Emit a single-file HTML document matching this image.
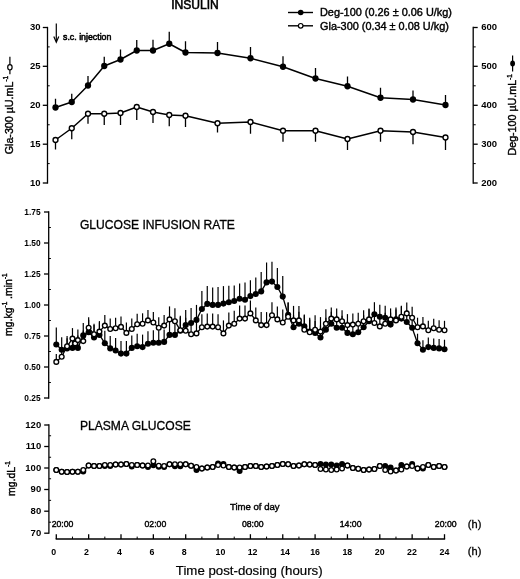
<!DOCTYPE html>
<html><head><meta charset="utf-8"><title>Insulin clamp figure</title>
<style>html,body{margin:0;padding:0;background:#fff}svg{display:block}text{font-family:"Liberation Sans", Arial, sans-serif;fill:#000}.b{font-weight:bold}</style></head><body>
<svg width="520" height="579" viewBox="0 0 520 579">
<rect width="520" height="579" fill="#fff"/>
<line x1="47.50" y1="26.85" x2="47.50" y2="183.65" stroke="#000" stroke-width="1.30"/>
<line x1="42.80" y1="27.50" x2="47.50" y2="27.50" stroke="#000" stroke-width="1.30"/>
<text x="40.50" y="30.30" font-size="9.5" text-anchor="end" class="b">30</text>
<line x1="42.80" y1="66.30" x2="47.50" y2="66.30" stroke="#000" stroke-width="1.30"/>
<text x="40.50" y="69.10" font-size="9.5" text-anchor="end" class="b">25</text>
<line x1="42.80" y1="105.30" x2="47.50" y2="105.30" stroke="#000" stroke-width="1.30"/>
<text x="40.50" y="108.10" font-size="9.5" text-anchor="end" class="b">20</text>
<line x1="42.80" y1="144.20" x2="47.50" y2="144.20" stroke="#000" stroke-width="1.30"/>
<text x="40.50" y="147.00" font-size="9.5" text-anchor="end" class="b">15</text>
<line x1="42.80" y1="183.00" x2="47.50" y2="183.00" stroke="#000" stroke-width="1.30"/>
<text x="40.50" y="185.80" font-size="9.5" text-anchor="end" class="b">10</text>
<line x1="47.50" y1="46.90" x2="49.70" y2="46.90" stroke="#000" stroke-width="1.00"/>
<line x1="47.50" y1="85.80" x2="49.70" y2="85.80" stroke="#000" stroke-width="1.00"/>
<line x1="47.50" y1="124.75" x2="49.70" y2="124.75" stroke="#000" stroke-width="1.00"/>
<line x1="47.50" y1="163.60" x2="49.70" y2="163.60" stroke="#000" stroke-width="1.00"/>
<line x1="473.20" y1="26.85" x2="473.20" y2="183.65" stroke="#000" stroke-width="1.30"/>
<line x1="473.20" y1="27.50" x2="477.70" y2="27.50" stroke="#000" stroke-width="1.30"/>
<text x="481.20" y="30.30" font-size="9.5" text-anchor="start" class="b">600</text>
<line x1="473.20" y1="66.30" x2="477.70" y2="66.30" stroke="#000" stroke-width="1.30"/>
<text x="481.20" y="69.10" font-size="9.5" text-anchor="start" class="b">500</text>
<line x1="473.20" y1="105.30" x2="477.70" y2="105.30" stroke="#000" stroke-width="1.30"/>
<text x="481.20" y="108.10" font-size="9.5" text-anchor="start" class="b">400</text>
<line x1="473.20" y1="144.20" x2="477.70" y2="144.20" stroke="#000" stroke-width="1.30"/>
<text x="481.20" y="147.00" font-size="9.5" text-anchor="start" class="b">300</text>
<line x1="473.20" y1="183.00" x2="477.70" y2="183.00" stroke="#000" stroke-width="1.30"/>
<text x="481.20" y="185.80" font-size="9.5" text-anchor="start" class="b">200</text>
<line x1="473.20" y1="46.90" x2="475.70" y2="46.90" stroke="#000" stroke-width="1.00"/>
<line x1="473.20" y1="85.80" x2="475.70" y2="85.80" stroke="#000" stroke-width="1.00"/>
<line x1="473.20" y1="124.75" x2="475.70" y2="124.75" stroke="#000" stroke-width="1.00"/>
<line x1="473.20" y1="163.60" x2="475.70" y2="163.60" stroke="#000" stroke-width="1.00"/>
<line x1="55.50" y1="107.50" x2="55.50" y2="98.75" stroke="#000" stroke-width="1.30"/>
<line x1="71.75" y1="102.00" x2="71.75" y2="93.75" stroke="#000" stroke-width="1.30"/>
<line x1="88.00" y1="85.50" x2="88.00" y2="76.00" stroke="#000" stroke-width="1.30"/>
<line x1="104.25" y1="66.00" x2="104.25" y2="56.75" stroke="#000" stroke-width="1.30"/>
<line x1="120.50" y1="59.50" x2="120.50" y2="49.50" stroke="#000" stroke-width="1.30"/>
<line x1="136.75" y1="50.50" x2="136.75" y2="40.00" stroke="#000" stroke-width="1.30"/>
<line x1="153.00" y1="50.50" x2="153.00" y2="39.75" stroke="#000" stroke-width="1.30"/>
<line x1="169.25" y1="43.75" x2="169.25" y2="31.75" stroke="#000" stroke-width="1.30"/>
<line x1="185.50" y1="52.50" x2="185.50" y2="41.25" stroke="#000" stroke-width="1.30"/>
<line x1="217.50" y1="53.00" x2="217.50" y2="42.00" stroke="#000" stroke-width="1.30"/>
<line x1="250.50" y1="58.25" x2="250.50" y2="47.00" stroke="#000" stroke-width="1.30"/>
<line x1="283.00" y1="66.75" x2="283.00" y2="56.25" stroke="#000" stroke-width="1.30"/>
<line x1="315.50" y1="78.50" x2="315.50" y2="68.00" stroke="#000" stroke-width="1.30"/>
<line x1="347.50" y1="86.25" x2="347.50" y2="76.50" stroke="#000" stroke-width="1.30"/>
<line x1="380.50" y1="97.75" x2="380.50" y2="87.75" stroke="#000" stroke-width="1.30"/>
<line x1="413.00" y1="99.50" x2="413.00" y2="90.50" stroke="#000" stroke-width="1.30"/>
<line x1="445.50" y1="105.00" x2="445.50" y2="95.00" stroke="#000" stroke-width="1.30"/>
<polyline fill="none" stroke="#000" stroke-width="1.50" stroke-linejoin="round" points="55.50,107.50 71.75,102.00 88.00,85.50 104.25,66.00 120.50,59.50 136.75,50.50 153.00,50.50 169.25,43.75 185.50,52.50 217.50,53.00 250.50,58.25 283.00,66.75 315.50,78.50 347.50,86.25 380.50,97.75 413.00,99.50 445.50,105.00"/>
<circle cx="55.50" cy="107.50" r="3.15" fill="#000"/>
<circle cx="71.75" cy="102.00" r="3.15" fill="#000"/>
<circle cx="88.00" cy="85.50" r="3.15" fill="#000"/>
<circle cx="104.25" cy="66.00" r="3.15" fill="#000"/>
<circle cx="120.50" cy="59.50" r="3.15" fill="#000"/>
<circle cx="136.75" cy="50.50" r="3.15" fill="#000"/>
<circle cx="153.00" cy="50.50" r="3.15" fill="#000"/>
<circle cx="169.25" cy="43.75" r="3.15" fill="#000"/>
<circle cx="185.50" cy="52.50" r="3.15" fill="#000"/>
<circle cx="217.50" cy="53.00" r="3.15" fill="#000"/>
<circle cx="250.50" cy="58.25" r="3.15" fill="#000"/>
<circle cx="283.00" cy="66.75" r="3.15" fill="#000"/>
<circle cx="315.50" cy="78.50" r="3.15" fill="#000"/>
<circle cx="347.50" cy="86.25" r="3.15" fill="#000"/>
<circle cx="380.50" cy="97.75" r="3.15" fill="#000"/>
<circle cx="413.00" cy="99.50" r="3.15" fill="#000"/>
<circle cx="445.50" cy="105.00" r="3.15" fill="#000"/>
<line x1="55.50" y1="140.00" x2="55.50" y2="149.50" stroke="#000" stroke-width="1.30"/>
<line x1="71.75" y1="128.25" x2="71.75" y2="139.25" stroke="#000" stroke-width="1.30"/>
<line x1="88.00" y1="113.75" x2="88.00" y2="123.75" stroke="#000" stroke-width="1.30"/>
<line x1="104.25" y1="113.75" x2="104.25" y2="125.00" stroke="#000" stroke-width="1.30"/>
<line x1="120.50" y1="113.00" x2="120.50" y2="125.00" stroke="#000" stroke-width="1.30"/>
<line x1="136.75" y1="107.00" x2="136.75" y2="120.00" stroke="#000" stroke-width="1.30"/>
<line x1="153.00" y1="112.00" x2="153.00" y2="123.00" stroke="#000" stroke-width="1.30"/>
<line x1="169.25" y1="115.00" x2="169.25" y2="126.25" stroke="#000" stroke-width="1.30"/>
<line x1="185.50" y1="115.75" x2="185.50" y2="127.00" stroke="#000" stroke-width="1.30"/>
<line x1="217.50" y1="123.25" x2="217.50" y2="132.50" stroke="#000" stroke-width="1.30"/>
<line x1="250.50" y1="122.00" x2="250.50" y2="133.75" stroke="#000" stroke-width="1.30"/>
<line x1="283.00" y1="130.75" x2="283.00" y2="141.75" stroke="#000" stroke-width="1.30"/>
<line x1="315.50" y1="130.75" x2="315.50" y2="141.75" stroke="#000" stroke-width="1.30"/>
<line x1="347.50" y1="139.00" x2="347.50" y2="150.00" stroke="#000" stroke-width="1.30"/>
<line x1="380.50" y1="130.75" x2="380.50" y2="141.75" stroke="#000" stroke-width="1.30"/>
<line x1="413.00" y1="132.00" x2="413.00" y2="144.25" stroke="#000" stroke-width="1.30"/>
<line x1="445.50" y1="137.50" x2="445.50" y2="150.00" stroke="#000" stroke-width="1.30"/>
<polyline fill="none" stroke="#000" stroke-width="1.50" stroke-linejoin="round" points="55.50,140.00 71.75,128.25 88.00,113.75 104.25,113.75 120.50,113.00 136.75,107.00 153.00,112.00 169.25,115.00 185.50,115.75 217.50,123.25 250.50,122.00 283.00,130.75 315.50,130.75 347.50,139.00 380.50,130.75 413.00,132.00 445.50,137.50"/>
<circle cx="55.50" cy="140.00" r="2.47" fill="#fff" stroke="#000" stroke-width="1.35"/>
<circle cx="71.75" cy="128.25" r="2.47" fill="#fff" stroke="#000" stroke-width="1.35"/>
<circle cx="88.00" cy="113.75" r="2.47" fill="#fff" stroke="#000" stroke-width="1.35"/>
<circle cx="104.25" cy="113.75" r="2.47" fill="#fff" stroke="#000" stroke-width="1.35"/>
<circle cx="120.50" cy="113.00" r="2.47" fill="#fff" stroke="#000" stroke-width="1.35"/>
<circle cx="136.75" cy="107.00" r="2.47" fill="#fff" stroke="#000" stroke-width="1.35"/>
<circle cx="153.00" cy="112.00" r="2.47" fill="#fff" stroke="#000" stroke-width="1.35"/>
<circle cx="169.25" cy="115.00" r="2.47" fill="#fff" stroke="#000" stroke-width="1.35"/>
<circle cx="185.50" cy="115.75" r="2.47" fill="#fff" stroke="#000" stroke-width="1.35"/>
<circle cx="217.50" cy="123.25" r="2.47" fill="#fff" stroke="#000" stroke-width="1.35"/>
<circle cx="250.50" cy="122.00" r="2.47" fill="#fff" stroke="#000" stroke-width="1.35"/>
<circle cx="283.00" cy="130.75" r="2.47" fill="#fff" stroke="#000" stroke-width="1.35"/>
<circle cx="315.50" cy="130.75" r="2.47" fill="#fff" stroke="#000" stroke-width="1.35"/>
<circle cx="347.50" cy="139.00" r="2.47" fill="#fff" stroke="#000" stroke-width="1.35"/>
<circle cx="380.50" cy="130.75" r="2.47" fill="#fff" stroke="#000" stroke-width="1.35"/>
<circle cx="413.00" cy="132.00" r="2.47" fill="#fff" stroke="#000" stroke-width="1.35"/>
<circle cx="445.50" cy="137.50" r="2.47" fill="#fff" stroke="#000" stroke-width="1.35"/>
<line x1="56.30" y1="23.50" x2="56.30" y2="41.00" stroke="#000" stroke-width="1.20"/>
<polyline fill="none" stroke="#000" stroke-width="1.2" points="53.8,36.5 56.3,42.3 58.8,36.5"/>
<text x="63.00" y="40.00" font-size="8.8" text-anchor="start" stroke="#000" stroke-width="0.55">s.c. injection</text>
<text x="195.00" y="9.10" font-size="12.1" text-anchor="middle" stroke="#000" stroke-width="0.55">INSULIN</text>
<line x1="288.00" y1="12.50" x2="313.00" y2="12.50" stroke="#000" stroke-width="1.40"/>
<circle cx="300.7" cy="12.5" r="2.8" fill="#000"/>
<line x1="288.00" y1="25.80" x2="313.00" y2="25.80" stroke="#000" stroke-width="1.40"/>
<circle cx="300.7" cy="25.8" r="2.3" fill="#fff" stroke="#000" stroke-width="1.2"/>
<text x="320.00" y="16.30" font-size="10.9" text-anchor="start" stroke="#000" stroke-width="0.4">Deg-100 (0.26 ± 0.06 U/kg)</text>
<text x="320.00" y="29.70" font-size="10.9" text-anchor="start" stroke="#000" stroke-width="0.4">Gla-300 (0.34 ± 0.08 U/kg)</text>
<g transform="translate(12.6 154.3) rotate(-90)">
<text x="0.00" y="0.00" font-size="10.7" text-anchor="start" stroke="#000" stroke-width="0.4">Gla-300 µU.mL<tspan dy="-4.3" font-size="6.3">-1</tspan></text>
<line x1="80.00" y1="-2.70" x2="97.50" y2="-2.70" stroke="#000" stroke-width="1.20"/>
<ellipse cx="87" cy="-2.7" rx="2.7" ry="2.2" fill="#fff" stroke="#000" stroke-width="1.2"/>
</g>
<g transform="translate(516.2 155.5) rotate(-90)">
<text x="0.00" y="0.00" font-size="10.7" text-anchor="start" stroke="#000" stroke-width="0.4">Deg-100 µU.mL<tspan dy="-4.3" font-size="6.3">-1</tspan></text>
<line x1="84.00" y1="-3.60" x2="100.00" y2="-3.60" stroke="#000" stroke-width="1.20"/>
<ellipse cx="92" cy="-3.6" rx="3" ry="2.4" fill="#000"/>
</g>
<line x1="48.70" y1="211.35" x2="48.70" y2="398.65" stroke="#000" stroke-width="1.30"/>
<line x1="44.00" y1="212.00" x2="48.70" y2="212.00" stroke="#000" stroke-width="1.30"/>
<text transform="translate(40.60 214.80) scale(0.88 1)" font-size="9.5" text-anchor="end" class="b">1.75</text>
<line x1="44.00" y1="243.00" x2="48.70" y2="243.00" stroke="#000" stroke-width="1.30"/>
<text transform="translate(40.60 245.80) scale(0.88 1)" font-size="9.5" text-anchor="end" class="b">1.50</text>
<line x1="44.00" y1="274.00" x2="48.70" y2="274.00" stroke="#000" stroke-width="1.30"/>
<text transform="translate(40.60 276.80) scale(0.88 1)" font-size="9.5" text-anchor="end" class="b">1.25</text>
<line x1="44.00" y1="305.00" x2="48.70" y2="305.00" stroke="#000" stroke-width="1.30"/>
<text transform="translate(40.60 307.80) scale(0.88 1)" font-size="9.5" text-anchor="end" class="b">1.00</text>
<line x1="44.00" y1="336.00" x2="48.70" y2="336.00" stroke="#000" stroke-width="1.30"/>
<text transform="translate(40.60 338.80) scale(0.88 1)" font-size="9.5" text-anchor="end" class="b">0.75</text>
<line x1="44.00" y1="367.00" x2="48.70" y2="367.00" stroke="#000" stroke-width="1.30"/>
<text transform="translate(40.60 369.80) scale(0.88 1)" font-size="9.5" text-anchor="end" class="b">0.50</text>
<line x1="44.00" y1="398.00" x2="48.70" y2="398.00" stroke="#000" stroke-width="1.30"/>
<text transform="translate(40.60 400.80) scale(0.88 1)" font-size="9.5" text-anchor="end" class="b">0.25</text>
<line x1="48.70" y1="227.50" x2="50.90" y2="227.50" stroke="#000" stroke-width="1.00"/>
<line x1="48.70" y1="258.50" x2="50.90" y2="258.50" stroke="#000" stroke-width="1.00"/>
<line x1="48.70" y1="289.50" x2="50.90" y2="289.50" stroke="#000" stroke-width="1.00"/>
<line x1="48.70" y1="320.50" x2="50.90" y2="320.50" stroke="#000" stroke-width="1.00"/>
<line x1="48.70" y1="351.50" x2="50.90" y2="351.50" stroke="#000" stroke-width="1.00"/>
<line x1="48.70" y1="382.50" x2="50.90" y2="382.50" stroke="#000" stroke-width="1.00"/>
<text x="79.90" y="229.00" font-size="12.1" text-anchor="start" stroke="#000" stroke-width="0.3">GLUCOSE INFUSION RATE</text>
<g transform="translate(11.6 336) rotate(-90)">
<text x="0" y="0" font-size="10.5" stroke="#000" stroke-width="0.4">mg.kg<tspan dy="-4.3" font-size="6.3">-1</tspan><tspan dy="4.3" font-size="10.5"> .min</tspan><tspan dy="-4.3" font-size="6.3">-1</tspan></text>
</g>
<line x1="56.30" y1="344.50" x2="56.30" y2="327.50" stroke="#000" stroke-width="1.20"/>
<line x1="61.69" y1="349.70" x2="61.69" y2="337.20" stroke="#000" stroke-width="1.20"/>
<line x1="67.08" y1="348.40" x2="67.08" y2="335.90" stroke="#000" stroke-width="1.20"/>
<line x1="72.47" y1="347.90" x2="72.47" y2="335.40" stroke="#000" stroke-width="1.20"/>
<line x1="77.87" y1="347.90" x2="77.87" y2="335.40" stroke="#000" stroke-width="1.20"/>
<line x1="83.26" y1="335.40" x2="83.26" y2="322.90" stroke="#000" stroke-width="1.20"/>
<line x1="88.65" y1="332.30" x2="88.65" y2="319.80" stroke="#000" stroke-width="1.20"/>
<line x1="94.04" y1="337.50" x2="94.04" y2="325.00" stroke="#000" stroke-width="1.20"/>
<line x1="99.43" y1="334.90" x2="99.43" y2="322.40" stroke="#000" stroke-width="1.20"/>
<line x1="104.82" y1="343.20" x2="104.82" y2="330.70" stroke="#000" stroke-width="1.20"/>
<line x1="110.22" y1="348.40" x2="110.22" y2="335.90" stroke="#000" stroke-width="1.20"/>
<line x1="115.61" y1="350.50" x2="115.61" y2="338.00" stroke="#000" stroke-width="1.20"/>
<line x1="121.00" y1="353.60" x2="121.00" y2="341.10" stroke="#000" stroke-width="1.20"/>
<line x1="126.39" y1="353.60" x2="126.39" y2="341.10" stroke="#000" stroke-width="1.20"/>
<line x1="131.78" y1="347.90" x2="131.78" y2="335.40" stroke="#000" stroke-width="1.20"/>
<line x1="137.18" y1="346.30" x2="137.18" y2="333.80" stroke="#000" stroke-width="1.20"/>
<line x1="142.57" y1="347.10" x2="142.57" y2="334.60" stroke="#000" stroke-width="1.20"/>
<line x1="147.96" y1="343.70" x2="147.96" y2="331.20" stroke="#000" stroke-width="1.20"/>
<line x1="153.35" y1="342.70" x2="153.35" y2="330.20" stroke="#000" stroke-width="1.20"/>
<line x1="158.74" y1="342.70" x2="158.74" y2="330.20" stroke="#000" stroke-width="1.20"/>
<line x1="164.13" y1="341.90" x2="164.13" y2="329.40" stroke="#000" stroke-width="1.20"/>
<line x1="169.52" y1="334.90" x2="169.52" y2="319.90" stroke="#000" stroke-width="1.20"/>
<line x1="174.92" y1="334.90" x2="174.92" y2="319.90" stroke="#000" stroke-width="1.20"/>
<line x1="180.31" y1="330.80" x2="180.31" y2="315.80" stroke="#000" stroke-width="1.20"/>
<line x1="185.70" y1="325.10" x2="185.70" y2="310.10" stroke="#000" stroke-width="1.20"/>
<line x1="191.09" y1="323.00" x2="191.09" y2="308.00" stroke="#000" stroke-width="1.20"/>
<line x1="196.48" y1="319.90" x2="196.48" y2="304.90" stroke="#000" stroke-width="1.20"/>
<line x1="201.88" y1="309.00" x2="201.88" y2="291.00" stroke="#000" stroke-width="1.20"/>
<line x1="207.27" y1="303.90" x2="207.27" y2="286.00" stroke="#000" stroke-width="1.20"/>
<line x1="212.66" y1="304.90" x2="212.66" y2="287.40" stroke="#000" stroke-width="1.20"/>
<line x1="218.05" y1="304.90" x2="218.05" y2="287.00" stroke="#000" stroke-width="1.20"/>
<line x1="223.44" y1="303.60" x2="223.44" y2="286.10" stroke="#000" stroke-width="1.20"/>
<line x1="228.83" y1="302.30" x2="228.83" y2="285.80" stroke="#000" stroke-width="1.20"/>
<line x1="234.23" y1="301.00" x2="234.23" y2="285.60" stroke="#000" stroke-width="1.20"/>
<line x1="239.62" y1="298.70" x2="239.62" y2="283.40" stroke="#000" stroke-width="1.20"/>
<line x1="245.01" y1="299.70" x2="245.01" y2="282.50" stroke="#000" stroke-width="1.20"/>
<line x1="250.40" y1="296.10" x2="250.40" y2="280.30" stroke="#000" stroke-width="1.20"/>
<line x1="255.79" y1="294.00" x2="255.79" y2="277.40" stroke="#000" stroke-width="1.20"/>
<line x1="261.18" y1="291.40" x2="261.18" y2="272.00" stroke="#000" stroke-width="1.20"/>
<line x1="266.57" y1="282.40" x2="266.57" y2="262.50" stroke="#000" stroke-width="1.20"/>
<line x1="271.97" y1="281.60" x2="271.97" y2="261.70" stroke="#000" stroke-width="1.20"/>
<line x1="277.36" y1="287.00" x2="277.36" y2="268.10" stroke="#000" stroke-width="1.20"/>
<line x1="282.75" y1="296.60" x2="282.75" y2="275.90" stroke="#000" stroke-width="1.20"/>
<line x1="288.14" y1="314.70" x2="288.14" y2="302.70" stroke="#000" stroke-width="1.20"/>
<line x1="293.53" y1="327.20" x2="293.53" y2="315.20" stroke="#000" stroke-width="1.20"/>
<line x1="298.93" y1="323.80" x2="298.93" y2="311.80" stroke="#000" stroke-width="1.20"/>
<line x1="304.32" y1="326.40" x2="304.32" y2="314.40" stroke="#000" stroke-width="1.20"/>
<line x1="309.71" y1="331.60" x2="309.71" y2="319.60" stroke="#000" stroke-width="1.20"/>
<line x1="315.10" y1="332.90" x2="315.10" y2="320.90" stroke="#000" stroke-width="1.20"/>
<line x1="320.49" y1="337.50" x2="320.49" y2="325.50" stroke="#000" stroke-width="1.20"/>
<line x1="325.88" y1="329.80" x2="325.88" y2="317.80" stroke="#000" stroke-width="1.20"/>
<line x1="331.28" y1="323.80" x2="331.28" y2="311.80" stroke="#000" stroke-width="1.20"/>
<line x1="336.67" y1="327.70" x2="336.67" y2="315.70" stroke="#000" stroke-width="1.20"/>
<line x1="342.06" y1="327.70" x2="342.06" y2="315.70" stroke="#000" stroke-width="1.20"/>
<line x1="347.45" y1="332.90" x2="347.45" y2="320.90" stroke="#000" stroke-width="1.20"/>
<line x1="352.84" y1="334.20" x2="352.84" y2="322.20" stroke="#000" stroke-width="1.20"/>
<line x1="358.23" y1="332.30" x2="358.23" y2="320.30" stroke="#000" stroke-width="1.20"/>
<line x1="363.62" y1="327.20" x2="363.62" y2="315.20" stroke="#000" stroke-width="1.20"/>
<line x1="369.02" y1="321.20" x2="369.02" y2="309.20" stroke="#000" stroke-width="1.20"/>
<line x1="374.41" y1="314.20" x2="374.41" y2="302.20" stroke="#000" stroke-width="1.20"/>
<line x1="379.80" y1="316.80" x2="379.80" y2="304.80" stroke="#000" stroke-width="1.20"/>
<line x1="385.19" y1="317.80" x2="385.19" y2="305.80" stroke="#000" stroke-width="1.20"/>
<line x1="390.58" y1="324.60" x2="390.58" y2="312.60" stroke="#000" stroke-width="1.20"/>
<line x1="395.98" y1="319.40" x2="395.98" y2="307.40" stroke="#000" stroke-width="1.20"/>
<line x1="401.37" y1="318.60" x2="401.37" y2="306.60" stroke="#000" stroke-width="1.20"/>
<line x1="406.76" y1="322.00" x2="406.76" y2="310.00" stroke="#000" stroke-width="1.20"/>
<line x1="412.15" y1="327.70" x2="412.15" y2="315.70" stroke="#000" stroke-width="1.20"/>
<line x1="417.54" y1="343.20" x2="417.54" y2="333.70" stroke="#000" stroke-width="1.20"/>
<line x1="422.93" y1="349.70" x2="422.93" y2="340.20" stroke="#000" stroke-width="1.20"/>
<line x1="428.32" y1="347.10" x2="428.32" y2="337.60" stroke="#000" stroke-width="1.20"/>
<line x1="433.72" y1="347.90" x2="433.72" y2="338.40" stroke="#000" stroke-width="1.20"/>
<line x1="439.11" y1="348.40" x2="439.11" y2="338.90" stroke="#000" stroke-width="1.20"/>
<line x1="444.50" y1="349.20" x2="444.50" y2="339.70" stroke="#000" stroke-width="1.20"/>
<polyline fill="none" stroke="#000" stroke-width="1.30" stroke-linejoin="round" points="56.30,344.50 61.69,349.70 67.08,348.40 72.47,347.90 77.87,347.90 83.26,335.40 88.65,332.30 94.04,337.50 99.43,334.90 104.82,343.20 110.22,348.40 115.61,350.50 121.00,353.60 126.39,353.60 131.78,347.90 137.18,346.30 142.57,347.10 147.96,343.70 153.35,342.70 158.74,342.70 164.13,341.90 169.52,334.90 174.92,334.90 180.31,330.80 185.70,325.10 191.09,323.00 196.48,319.90 201.88,309.00 207.27,303.90 212.66,304.90 218.05,304.90 223.44,303.60 228.83,302.30 234.23,301.00 239.62,298.70 245.01,299.70 250.40,296.10 255.79,294.00 261.18,291.40 266.57,282.40 271.97,281.60 277.36,287.00 282.75,296.60 288.14,314.70 293.53,327.20 298.93,323.80 304.32,326.40 309.71,331.60 315.10,332.90 320.49,337.50 325.88,329.80 331.28,323.80 336.67,327.70 342.06,327.70 347.45,332.90 352.84,334.20 358.23,332.30 363.62,327.20 369.02,321.20 374.41,314.20 379.80,316.80 385.19,317.80 390.58,324.60 395.98,319.40 401.37,318.60 406.76,322.00 412.15,327.70 417.54,343.20 422.93,349.70 428.32,347.10 433.72,347.90 439.11,348.40 444.50,349.20"/>
<circle cx="56.30" cy="344.50" r="3.05" fill="#000"/>
<circle cx="61.69" cy="349.70" r="3.05" fill="#000"/>
<circle cx="67.08" cy="348.40" r="3.05" fill="#000"/>
<circle cx="72.47" cy="347.90" r="3.05" fill="#000"/>
<circle cx="77.87" cy="347.90" r="3.05" fill="#000"/>
<circle cx="83.26" cy="335.40" r="3.05" fill="#000"/>
<circle cx="88.65" cy="332.30" r="3.05" fill="#000"/>
<circle cx="94.04" cy="337.50" r="3.05" fill="#000"/>
<circle cx="99.43" cy="334.90" r="3.05" fill="#000"/>
<circle cx="104.82" cy="343.20" r="3.05" fill="#000"/>
<circle cx="110.22" cy="348.40" r="3.05" fill="#000"/>
<circle cx="115.61" cy="350.50" r="3.05" fill="#000"/>
<circle cx="121.00" cy="353.60" r="3.05" fill="#000"/>
<circle cx="126.39" cy="353.60" r="3.05" fill="#000"/>
<circle cx="131.78" cy="347.90" r="3.05" fill="#000"/>
<circle cx="137.18" cy="346.30" r="3.05" fill="#000"/>
<circle cx="142.57" cy="347.10" r="3.05" fill="#000"/>
<circle cx="147.96" cy="343.70" r="3.05" fill="#000"/>
<circle cx="153.35" cy="342.70" r="3.05" fill="#000"/>
<circle cx="158.74" cy="342.70" r="3.05" fill="#000"/>
<circle cx="164.13" cy="341.90" r="3.05" fill="#000"/>
<circle cx="169.52" cy="334.90" r="3.05" fill="#000"/>
<circle cx="174.92" cy="334.90" r="3.05" fill="#000"/>
<circle cx="180.31" cy="330.80" r="3.05" fill="#000"/>
<circle cx="185.70" cy="325.10" r="3.05" fill="#000"/>
<circle cx="191.09" cy="323.00" r="3.05" fill="#000"/>
<circle cx="196.48" cy="319.90" r="3.05" fill="#000"/>
<circle cx="201.88" cy="309.00" r="3.05" fill="#000"/>
<circle cx="207.27" cy="303.90" r="3.05" fill="#000"/>
<circle cx="212.66" cy="304.90" r="3.05" fill="#000"/>
<circle cx="218.05" cy="304.90" r="3.05" fill="#000"/>
<circle cx="223.44" cy="303.60" r="3.05" fill="#000"/>
<circle cx="228.83" cy="302.30" r="3.05" fill="#000"/>
<circle cx="234.23" cy="301.00" r="3.05" fill="#000"/>
<circle cx="239.62" cy="298.70" r="3.05" fill="#000"/>
<circle cx="245.01" cy="299.70" r="3.05" fill="#000"/>
<circle cx="250.40" cy="296.10" r="3.05" fill="#000"/>
<circle cx="255.79" cy="294.00" r="3.05" fill="#000"/>
<circle cx="261.18" cy="291.40" r="3.05" fill="#000"/>
<circle cx="266.57" cy="282.40" r="3.05" fill="#000"/>
<circle cx="271.97" cy="281.60" r="3.05" fill="#000"/>
<circle cx="277.36" cy="287.00" r="3.05" fill="#000"/>
<circle cx="282.75" cy="296.60" r="3.05" fill="#000"/>
<circle cx="288.14" cy="314.70" r="3.05" fill="#000"/>
<circle cx="293.53" cy="327.20" r="3.05" fill="#000"/>
<circle cx="298.93" cy="323.80" r="3.05" fill="#000"/>
<circle cx="304.32" cy="326.40" r="3.05" fill="#000"/>
<circle cx="309.71" cy="331.60" r="3.05" fill="#000"/>
<circle cx="315.10" cy="332.90" r="3.05" fill="#000"/>
<circle cx="320.49" cy="337.50" r="3.05" fill="#000"/>
<circle cx="325.88" cy="329.80" r="3.05" fill="#000"/>
<circle cx="331.28" cy="323.80" r="3.05" fill="#000"/>
<circle cx="336.67" cy="327.70" r="3.05" fill="#000"/>
<circle cx="342.06" cy="327.70" r="3.05" fill="#000"/>
<circle cx="347.45" cy="332.90" r="3.05" fill="#000"/>
<circle cx="352.84" cy="334.20" r="3.05" fill="#000"/>
<circle cx="358.23" cy="332.30" r="3.05" fill="#000"/>
<circle cx="363.62" cy="327.20" r="3.05" fill="#000"/>
<circle cx="369.02" cy="321.20" r="3.05" fill="#000"/>
<circle cx="374.41" cy="314.20" r="3.05" fill="#000"/>
<circle cx="379.80" cy="316.80" r="3.05" fill="#000"/>
<circle cx="385.19" cy="317.80" r="3.05" fill="#000"/>
<circle cx="390.58" cy="324.60" r="3.05" fill="#000"/>
<circle cx="395.98" cy="319.40" r="3.05" fill="#000"/>
<circle cx="401.37" cy="318.60" r="3.05" fill="#000"/>
<circle cx="406.76" cy="322.00" r="3.05" fill="#000"/>
<circle cx="412.15" cy="327.70" r="3.05" fill="#000"/>
<circle cx="417.54" cy="343.20" r="3.05" fill="#000"/>
<circle cx="422.93" cy="349.70" r="3.05" fill="#000"/>
<circle cx="428.32" cy="347.10" r="3.05" fill="#000"/>
<circle cx="433.72" cy="347.90" r="3.05" fill="#000"/>
<circle cx="439.11" cy="348.40" r="3.05" fill="#000"/>
<circle cx="444.50" cy="349.20" r="3.05" fill="#000"/>
<line x1="56.30" y1="361.90" x2="56.30" y2="353.90" stroke="#000" stroke-width="1.20"/>
<line x1="61.69" y1="356.70" x2="61.69" y2="348.70" stroke="#000" stroke-width="1.20"/>
<line x1="67.08" y1="346.30" x2="67.08" y2="338.30" stroke="#000" stroke-width="1.20"/>
<line x1="72.47" y1="338.60" x2="72.47" y2="328.10" stroke="#000" stroke-width="1.20"/>
<line x1="75.20" y1="343.40" x2="75.20" y2="343.40" stroke="#000" stroke-width="1.20"/>
<line x1="77.87" y1="340.10" x2="77.87" y2="329.60" stroke="#000" stroke-width="1.20"/>
<line x1="83.26" y1="341.10" x2="83.26" y2="330.60" stroke="#000" stroke-width="1.20"/>
<line x1="88.65" y1="327.70" x2="88.65" y2="317.20" stroke="#000" stroke-width="1.20"/>
<line x1="94.04" y1="334.20" x2="94.04" y2="323.70" stroke="#000" stroke-width="1.20"/>
<line x1="99.43" y1="331.60" x2="99.43" y2="321.10" stroke="#000" stroke-width="1.20"/>
<line x1="104.82" y1="325.60" x2="104.82" y2="315.10" stroke="#000" stroke-width="1.20"/>
<line x1="110.22" y1="329.00" x2="110.22" y2="318.50" stroke="#000" stroke-width="1.20"/>
<line x1="115.61" y1="328.20" x2="115.61" y2="317.70" stroke="#000" stroke-width="1.20"/>
<line x1="121.00" y1="326.90" x2="121.00" y2="316.40" stroke="#000" stroke-width="1.20"/>
<line x1="126.39" y1="332.90" x2="126.39" y2="322.40" stroke="#000" stroke-width="1.20"/>
<line x1="131.78" y1="329.00" x2="131.78" y2="318.50" stroke="#000" stroke-width="1.20"/>
<line x1="137.18" y1="324.30" x2="137.18" y2="313.80" stroke="#000" stroke-width="1.20"/>
<line x1="142.57" y1="323.80" x2="142.57" y2="313.30" stroke="#000" stroke-width="1.20"/>
<line x1="147.96" y1="320.40" x2="147.96" y2="309.90" stroke="#000" stroke-width="1.20"/>
<line x1="153.35" y1="322.50" x2="153.35" y2="312.00" stroke="#000" stroke-width="1.20"/>
<line x1="158.74" y1="327.70" x2="158.74" y2="317.20" stroke="#000" stroke-width="1.20"/>
<line x1="164.13" y1="325.60" x2="164.13" y2="315.10" stroke="#000" stroke-width="1.20"/>
<line x1="169.52" y1="319.40" x2="169.52" y2="306.40" stroke="#000" stroke-width="1.20"/>
<line x1="174.92" y1="321.20" x2="174.92" y2="308.20" stroke="#000" stroke-width="1.20"/>
<line x1="180.31" y1="330.30" x2="180.31" y2="317.30" stroke="#000" stroke-width="1.20"/>
<line x1="185.70" y1="330.80" x2="185.70" y2="317.80" stroke="#000" stroke-width="1.20"/>
<line x1="191.09" y1="334.20" x2="191.09" y2="321.20" stroke="#000" stroke-width="1.20"/>
<line x1="196.48" y1="333.40" x2="196.48" y2="320.40" stroke="#000" stroke-width="1.20"/>
<line x1="201.88" y1="327.20" x2="201.88" y2="314.20" stroke="#000" stroke-width="1.20"/>
<line x1="207.27" y1="326.60" x2="207.27" y2="313.60" stroke="#000" stroke-width="1.20"/>
<line x1="212.66" y1="326.60" x2="212.66" y2="313.60" stroke="#000" stroke-width="1.20"/>
<line x1="218.05" y1="327.20" x2="218.05" y2="314.20" stroke="#000" stroke-width="1.20"/>
<line x1="223.44" y1="333.40" x2="223.44" y2="320.40" stroke="#000" stroke-width="1.20"/>
<line x1="228.83" y1="325.60" x2="228.83" y2="312.60" stroke="#000" stroke-width="1.20"/>
<line x1="234.23" y1="323.80" x2="234.23" y2="310.80" stroke="#000" stroke-width="1.20"/>
<line x1="239.62" y1="318.60" x2="239.62" y2="305.60" stroke="#000" stroke-width="1.20"/>
<line x1="245.01" y1="318.60" x2="245.01" y2="305.60" stroke="#000" stroke-width="1.20"/>
<line x1="250.40" y1="313.40" x2="250.40" y2="300.40" stroke="#000" stroke-width="1.20"/>
<line x1="255.79" y1="320.40" x2="255.79" y2="307.40" stroke="#000" stroke-width="1.20"/>
<line x1="261.18" y1="325.10" x2="261.18" y2="312.10" stroke="#000" stroke-width="1.20"/>
<line x1="266.57" y1="325.10" x2="266.57" y2="312.10" stroke="#000" stroke-width="1.20"/>
<line x1="271.97" y1="315.30" x2="271.97" y2="302.30" stroke="#000" stroke-width="1.20"/>
<line x1="277.36" y1="319.40" x2="277.36" y2="306.40" stroke="#000" stroke-width="1.20"/>
<line x1="282.75" y1="322.50" x2="282.75" y2="309.50" stroke="#000" stroke-width="1.20"/>
<line x1="288.14" y1="316.80" x2="288.14" y2="302.30" stroke="#000" stroke-width="1.20"/>
<line x1="293.53" y1="320.40" x2="293.53" y2="305.90" stroke="#000" stroke-width="1.20"/>
<line x1="298.93" y1="320.40" x2="298.93" y2="305.90" stroke="#000" stroke-width="1.20"/>
<line x1="304.32" y1="329.80" x2="304.32" y2="315.30" stroke="#000" stroke-width="1.20"/>
<line x1="309.71" y1="332.30" x2="309.71" y2="317.80" stroke="#000" stroke-width="1.20"/>
<line x1="315.10" y1="329.80" x2="315.10" y2="315.30" stroke="#000" stroke-width="1.20"/>
<line x1="320.49" y1="331.60" x2="320.49" y2="317.10" stroke="#000" stroke-width="1.20"/>
<line x1="325.88" y1="323.80" x2="325.88" y2="309.30" stroke="#000" stroke-width="1.20"/>
<line x1="331.28" y1="318.60" x2="331.28" y2="307.60" stroke="#000" stroke-width="1.20"/>
<line x1="336.67" y1="319.40" x2="336.67" y2="308.40" stroke="#000" stroke-width="1.20"/>
<line x1="342.06" y1="321.20" x2="342.06" y2="310.20" stroke="#000" stroke-width="1.20"/>
<line x1="347.45" y1="325.10" x2="347.45" y2="314.10" stroke="#000" stroke-width="1.20"/>
<line x1="352.84" y1="324.60" x2="352.84" y2="313.60" stroke="#000" stroke-width="1.20"/>
<line x1="358.23" y1="323.80" x2="358.23" y2="312.80" stroke="#000" stroke-width="1.20"/>
<line x1="363.62" y1="321.20" x2="363.62" y2="310.20" stroke="#000" stroke-width="1.20"/>
<line x1="369.02" y1="319.40" x2="369.02" y2="308.40" stroke="#000" stroke-width="1.20"/>
<line x1="374.41" y1="323.00" x2="374.41" y2="312.00" stroke="#000" stroke-width="1.20"/>
<line x1="379.80" y1="326.40" x2="379.80" y2="315.40" stroke="#000" stroke-width="1.20"/>
<line x1="385.19" y1="323.80" x2="385.19" y2="312.80" stroke="#000" stroke-width="1.20"/>
<line x1="390.58" y1="319.40" x2="390.58" y2="308.40" stroke="#000" stroke-width="1.20"/>
<line x1="395.98" y1="320.40" x2="395.98" y2="309.40" stroke="#000" stroke-width="1.20"/>
<line x1="401.37" y1="316.80" x2="401.37" y2="305.80" stroke="#000" stroke-width="1.20"/>
<line x1="406.76" y1="313.40" x2="406.76" y2="302.40" stroke="#000" stroke-width="1.20"/>
<line x1="412.15" y1="317.80" x2="412.15" y2="306.80" stroke="#000" stroke-width="1.20"/>
<line x1="417.54" y1="327.20" x2="417.54" y2="317.70" stroke="#000" stroke-width="1.20"/>
<line x1="422.93" y1="326.40" x2="422.93" y2="316.90" stroke="#000" stroke-width="1.20"/>
<line x1="428.32" y1="330.30" x2="428.32" y2="320.80" stroke="#000" stroke-width="1.20"/>
<line x1="433.72" y1="328.20" x2="433.72" y2="318.70" stroke="#000" stroke-width="1.20"/>
<line x1="439.11" y1="329.80" x2="439.11" y2="320.30" stroke="#000" stroke-width="1.20"/>
<line x1="444.50" y1="330.30" x2="444.50" y2="320.80" stroke="#000" stroke-width="1.20"/>
<polyline fill="none" stroke="#000" stroke-width="1.30" stroke-linejoin="round" points="56.30,361.90 61.69,356.70 67.08,346.30 72.47,338.60 75.20,343.40 77.87,340.10 83.26,341.10 88.65,327.70 94.04,334.20 99.43,331.60 104.82,325.60 110.22,329.00 115.61,328.20 121.00,326.90 126.39,332.90 131.78,329.00 137.18,324.30 142.57,323.80 147.96,320.40 153.35,322.50 158.74,327.70 164.13,325.60 169.52,319.40 174.92,321.20 180.31,330.30 185.70,330.80 191.09,334.20 196.48,333.40 201.88,327.20 207.27,326.60 212.66,326.60 218.05,327.20 223.44,333.40 228.83,325.60 234.23,323.80 239.62,318.60 245.01,318.60 250.40,313.40 255.79,320.40 261.18,325.10 266.57,325.10 271.97,315.30 277.36,319.40 282.75,322.50 288.14,316.80 293.53,320.40 298.93,320.40 304.32,329.80 309.71,332.30 315.10,329.80 320.49,331.60 325.88,323.80 331.28,318.60 336.67,319.40 342.06,321.20 347.45,325.10 352.84,324.60 358.23,323.80 363.62,321.20 369.02,319.40 374.41,323.00 379.80,326.40 385.19,323.80 390.58,319.40 395.98,320.40 401.37,316.80 406.76,313.40 412.15,317.80 417.54,327.20 422.93,326.40 428.32,330.30 433.72,328.20 439.11,329.80 444.50,330.30"/>
<circle cx="56.30" cy="361.90" r="2.38" fill="#fff" stroke="#000" stroke-width="1.35"/>
<circle cx="61.69" cy="356.70" r="2.38" fill="#fff" stroke="#000" stroke-width="1.35"/>
<circle cx="67.08" cy="346.30" r="2.38" fill="#fff" stroke="#000" stroke-width="1.35"/>
<circle cx="72.47" cy="338.60" r="2.38" fill="#fff" stroke="#000" stroke-width="1.35"/>
<circle cx="75.20" cy="343.40" r="2.38" fill="#fff" stroke="#000" stroke-width="1.35"/>
<circle cx="77.87" cy="340.10" r="2.38" fill="#fff" stroke="#000" stroke-width="1.35"/>
<circle cx="83.26" cy="341.10" r="2.38" fill="#fff" stroke="#000" stroke-width="1.35"/>
<circle cx="88.65" cy="327.70" r="2.38" fill="#fff" stroke="#000" stroke-width="1.35"/>
<circle cx="94.04" cy="334.20" r="2.38" fill="#fff" stroke="#000" stroke-width="1.35"/>
<circle cx="99.43" cy="331.60" r="2.38" fill="#fff" stroke="#000" stroke-width="1.35"/>
<circle cx="104.82" cy="325.60" r="2.38" fill="#fff" stroke="#000" stroke-width="1.35"/>
<circle cx="110.22" cy="329.00" r="2.38" fill="#fff" stroke="#000" stroke-width="1.35"/>
<circle cx="115.61" cy="328.20" r="2.38" fill="#fff" stroke="#000" stroke-width="1.35"/>
<circle cx="121.00" cy="326.90" r="2.38" fill="#fff" stroke="#000" stroke-width="1.35"/>
<circle cx="126.39" cy="332.90" r="2.38" fill="#fff" stroke="#000" stroke-width="1.35"/>
<circle cx="131.78" cy="329.00" r="2.38" fill="#fff" stroke="#000" stroke-width="1.35"/>
<circle cx="137.18" cy="324.30" r="2.38" fill="#fff" stroke="#000" stroke-width="1.35"/>
<circle cx="142.57" cy="323.80" r="2.38" fill="#fff" stroke="#000" stroke-width="1.35"/>
<circle cx="147.96" cy="320.40" r="2.38" fill="#fff" stroke="#000" stroke-width="1.35"/>
<circle cx="153.35" cy="322.50" r="2.38" fill="#fff" stroke="#000" stroke-width="1.35"/>
<circle cx="158.74" cy="327.70" r="2.38" fill="#fff" stroke="#000" stroke-width="1.35"/>
<circle cx="164.13" cy="325.60" r="2.38" fill="#fff" stroke="#000" stroke-width="1.35"/>
<circle cx="169.52" cy="319.40" r="2.38" fill="#fff" stroke="#000" stroke-width="1.35"/>
<circle cx="174.92" cy="321.20" r="2.38" fill="#fff" stroke="#000" stroke-width="1.35"/>
<circle cx="180.31" cy="330.30" r="2.38" fill="#fff" stroke="#000" stroke-width="1.35"/>
<circle cx="185.70" cy="330.80" r="2.38" fill="#fff" stroke="#000" stroke-width="1.35"/>
<circle cx="191.09" cy="334.20" r="2.38" fill="#fff" stroke="#000" stroke-width="1.35"/>
<circle cx="196.48" cy="333.40" r="2.38" fill="#fff" stroke="#000" stroke-width="1.35"/>
<circle cx="201.88" cy="327.20" r="2.38" fill="#fff" stroke="#000" stroke-width="1.35"/>
<circle cx="207.27" cy="326.60" r="2.38" fill="#fff" stroke="#000" stroke-width="1.35"/>
<circle cx="212.66" cy="326.60" r="2.38" fill="#fff" stroke="#000" stroke-width="1.35"/>
<circle cx="218.05" cy="327.20" r="2.38" fill="#fff" stroke="#000" stroke-width="1.35"/>
<circle cx="223.44" cy="333.40" r="2.38" fill="#fff" stroke="#000" stroke-width="1.35"/>
<circle cx="228.83" cy="325.60" r="2.38" fill="#fff" stroke="#000" stroke-width="1.35"/>
<circle cx="234.23" cy="323.80" r="2.38" fill="#fff" stroke="#000" stroke-width="1.35"/>
<circle cx="239.62" cy="318.60" r="2.38" fill="#fff" stroke="#000" stroke-width="1.35"/>
<circle cx="245.01" cy="318.60" r="2.38" fill="#fff" stroke="#000" stroke-width="1.35"/>
<circle cx="250.40" cy="313.40" r="2.38" fill="#fff" stroke="#000" stroke-width="1.35"/>
<circle cx="255.79" cy="320.40" r="2.38" fill="#fff" stroke="#000" stroke-width="1.35"/>
<circle cx="261.18" cy="325.10" r="2.38" fill="#fff" stroke="#000" stroke-width="1.35"/>
<circle cx="266.57" cy="325.10" r="2.38" fill="#fff" stroke="#000" stroke-width="1.35"/>
<circle cx="271.97" cy="315.30" r="2.38" fill="#fff" stroke="#000" stroke-width="1.35"/>
<circle cx="277.36" cy="319.40" r="2.38" fill="#fff" stroke="#000" stroke-width="1.35"/>
<circle cx="282.75" cy="322.50" r="2.38" fill="#fff" stroke="#000" stroke-width="1.35"/>
<circle cx="288.14" cy="316.80" r="2.38" fill="#fff" stroke="#000" stroke-width="1.35"/>
<circle cx="293.53" cy="320.40" r="2.38" fill="#fff" stroke="#000" stroke-width="1.35"/>
<circle cx="298.93" cy="320.40" r="2.38" fill="#fff" stroke="#000" stroke-width="1.35"/>
<circle cx="304.32" cy="329.80" r="2.38" fill="#fff" stroke="#000" stroke-width="1.35"/>
<circle cx="309.71" cy="332.30" r="2.38" fill="#fff" stroke="#000" stroke-width="1.35"/>
<circle cx="315.10" cy="329.80" r="2.38" fill="#fff" stroke="#000" stroke-width="1.35"/>
<circle cx="320.49" cy="331.60" r="2.38" fill="#fff" stroke="#000" stroke-width="1.35"/>
<circle cx="325.88" cy="323.80" r="2.38" fill="#fff" stroke="#000" stroke-width="1.35"/>
<circle cx="331.28" cy="318.60" r="2.38" fill="#fff" stroke="#000" stroke-width="1.35"/>
<circle cx="336.67" cy="319.40" r="2.38" fill="#fff" stroke="#000" stroke-width="1.35"/>
<circle cx="342.06" cy="321.20" r="2.38" fill="#fff" stroke="#000" stroke-width="1.35"/>
<circle cx="347.45" cy="325.10" r="2.38" fill="#fff" stroke="#000" stroke-width="1.35"/>
<circle cx="352.84" cy="324.60" r="2.38" fill="#fff" stroke="#000" stroke-width="1.35"/>
<circle cx="358.23" cy="323.80" r="2.38" fill="#fff" stroke="#000" stroke-width="1.35"/>
<circle cx="363.62" cy="321.20" r="2.38" fill="#fff" stroke="#000" stroke-width="1.35"/>
<circle cx="369.02" cy="319.40" r="2.38" fill="#fff" stroke="#000" stroke-width="1.35"/>
<circle cx="374.41" cy="323.00" r="2.38" fill="#fff" stroke="#000" stroke-width="1.35"/>
<circle cx="379.80" cy="326.40" r="2.38" fill="#fff" stroke="#000" stroke-width="1.35"/>
<circle cx="385.19" cy="323.80" r="2.38" fill="#fff" stroke="#000" stroke-width="1.35"/>
<circle cx="390.58" cy="319.40" r="2.38" fill="#fff" stroke="#000" stroke-width="1.35"/>
<circle cx="395.98" cy="320.40" r="2.38" fill="#fff" stroke="#000" stroke-width="1.35"/>
<circle cx="401.37" cy="316.80" r="2.38" fill="#fff" stroke="#000" stroke-width="1.35"/>
<circle cx="406.76" cy="313.40" r="2.38" fill="#fff" stroke="#000" stroke-width="1.35"/>
<circle cx="412.15" cy="317.80" r="2.38" fill="#fff" stroke="#000" stroke-width="1.35"/>
<circle cx="417.54" cy="327.20" r="2.38" fill="#fff" stroke="#000" stroke-width="1.35"/>
<circle cx="422.93" cy="326.40" r="2.38" fill="#fff" stroke="#000" stroke-width="1.35"/>
<circle cx="428.32" cy="330.30" r="2.38" fill="#fff" stroke="#000" stroke-width="1.35"/>
<circle cx="433.72" cy="328.20" r="2.38" fill="#fff" stroke="#000" stroke-width="1.35"/>
<circle cx="439.11" cy="329.80" r="2.38" fill="#fff" stroke="#000" stroke-width="1.35"/>
<circle cx="444.50" cy="330.30" r="2.38" fill="#fff" stroke="#000" stroke-width="1.35"/>
<line x1="48.90" y1="424.35" x2="48.90" y2="533.85" stroke="#000" stroke-width="1.30"/>
<line x1="44.20" y1="425.00" x2="48.90" y2="425.00" stroke="#000" stroke-width="1.30"/>
<text x="41.20" y="427.80" font-size="9.5" text-anchor="end" class="b">120</text>
<line x1="44.20" y1="446.50" x2="48.90" y2="446.50" stroke="#000" stroke-width="1.30"/>
<text x="41.20" y="449.30" font-size="9.5" text-anchor="end" class="b">110</text>
<line x1="44.20" y1="468.00" x2="48.90" y2="468.00" stroke="#000" stroke-width="1.30"/>
<text x="41.20" y="470.80" font-size="9.5" text-anchor="end" class="b">100</text>
<line x1="44.20" y1="489.50" x2="48.90" y2="489.50" stroke="#000" stroke-width="1.30"/>
<text x="41.20" y="492.30" font-size="9.5" text-anchor="end" class="b">90</text>
<line x1="44.20" y1="511.20" x2="48.90" y2="511.20" stroke="#000" stroke-width="1.30"/>
<text x="41.20" y="514.00" font-size="9.5" text-anchor="end" class="b">80</text>
<line x1="44.20" y1="533.20" x2="48.90" y2="533.20" stroke="#000" stroke-width="1.30"/>
<text x="41.20" y="536.00" font-size="9.5" text-anchor="end" class="b">70</text>
<line x1="48.90" y1="435.75" x2="51.10" y2="435.75" stroke="#000" stroke-width="1.00"/>
<line x1="48.90" y1="457.25" x2="51.10" y2="457.25" stroke="#000" stroke-width="1.00"/>
<line x1="48.90" y1="478.75" x2="51.10" y2="478.75" stroke="#000" stroke-width="1.00"/>
<line x1="48.90" y1="500.35" x2="51.10" y2="500.35" stroke="#000" stroke-width="1.00"/>
<line x1="48.90" y1="522.20" x2="51.10" y2="522.20" stroke="#000" stroke-width="1.00"/>
<text x="79.90" y="430.00" font-size="12.1" text-anchor="start" stroke="#000" stroke-width="0.3">PLASMA GLUCOSE</text>
<g transform="translate(14.5 496) rotate(-90)">
<text x="0.00" y="0.00" font-size="10.5" text-anchor="start" stroke="#000" stroke-width="0.4">mg.dL<tspan dy="-4.3" font-size="6.3">-1</tspan></text>
</g>
<polyline fill="none" stroke="#000" stroke-width="1.30" stroke-linejoin="round" points="56.30,470.00 61.69,471.75 67.08,472.00 72.47,471.75 77.87,471.75 83.26,471.50 88.65,465.50 94.04,466.00 99.43,466.00 104.82,466.00 110.22,466.00 115.61,464.50 121.00,464.50 126.39,464.00 131.78,466.50 137.18,465.00 142.57,465.50 147.96,467.00 153.35,465.25 158.74,466.75 164.13,467.00 169.52,464.25 174.92,466.25 180.31,466.25 185.70,464.25 191.09,465.75 196.48,470.00 201.88,468.50 207.27,467.50 212.66,467.00 218.05,463.50 223.44,464.00 228.83,467.00 234.23,467.50 239.62,471.00 245.01,467.00 250.40,466.00 255.79,466.00 261.18,467.00 266.57,466.50 271.97,466.00 277.36,465.00 282.75,464.00 288.14,464.25 293.53,466.00 298.93,465.50 304.32,464.25 309.71,464.50 315.10,465.00 320.49,464.00 325.88,464.50 331.28,464.50 336.67,465.50 342.06,464.00 347.45,465.50 352.84,468.00 358.23,468.75 363.62,470.00 369.02,469.50 374.41,469.00 379.80,466.00 385.19,466.00 390.58,467.50 395.98,470.50 401.37,465.00 406.76,466.50 412.15,464.00 417.54,468.50 422.93,468.50 428.32,465.00 433.72,467.00 439.11,466.00 444.50,467.00"/>
<circle cx="56.30" cy="470.00" r="3.00" fill="#000"/>
<circle cx="61.69" cy="471.75" r="3.00" fill="#000"/>
<circle cx="67.08" cy="472.00" r="3.00" fill="#000"/>
<circle cx="72.47" cy="471.75" r="3.00" fill="#000"/>
<circle cx="77.87" cy="471.75" r="3.00" fill="#000"/>
<circle cx="83.26" cy="471.50" r="3.00" fill="#000"/>
<circle cx="88.65" cy="465.50" r="3.00" fill="#000"/>
<circle cx="94.04" cy="466.00" r="3.00" fill="#000"/>
<circle cx="99.43" cy="466.00" r="3.00" fill="#000"/>
<circle cx="104.82" cy="466.00" r="3.00" fill="#000"/>
<circle cx="110.22" cy="466.00" r="3.00" fill="#000"/>
<circle cx="115.61" cy="464.50" r="3.00" fill="#000"/>
<circle cx="121.00" cy="464.50" r="3.00" fill="#000"/>
<circle cx="126.39" cy="464.00" r="3.00" fill="#000"/>
<circle cx="131.78" cy="466.50" r="3.00" fill="#000"/>
<circle cx="137.18" cy="465.00" r="3.00" fill="#000"/>
<circle cx="142.57" cy="465.50" r="3.00" fill="#000"/>
<circle cx="147.96" cy="467.00" r="3.00" fill="#000"/>
<circle cx="153.35" cy="465.25" r="3.00" fill="#000"/>
<circle cx="158.74" cy="466.75" r="3.00" fill="#000"/>
<circle cx="164.13" cy="467.00" r="3.00" fill="#000"/>
<circle cx="169.52" cy="464.25" r="3.00" fill="#000"/>
<circle cx="174.92" cy="466.25" r="3.00" fill="#000"/>
<circle cx="180.31" cy="466.25" r="3.00" fill="#000"/>
<circle cx="185.70" cy="464.25" r="3.00" fill="#000"/>
<circle cx="191.09" cy="465.75" r="3.00" fill="#000"/>
<circle cx="196.48" cy="470.00" r="3.00" fill="#000"/>
<circle cx="201.88" cy="468.50" r="3.00" fill="#000"/>
<circle cx="207.27" cy="467.50" r="3.00" fill="#000"/>
<circle cx="212.66" cy="467.00" r="3.00" fill="#000"/>
<circle cx="218.05" cy="463.50" r="3.00" fill="#000"/>
<circle cx="223.44" cy="464.00" r="3.00" fill="#000"/>
<circle cx="228.83" cy="467.00" r="3.00" fill="#000"/>
<circle cx="234.23" cy="467.50" r="3.00" fill="#000"/>
<circle cx="239.62" cy="471.00" r="3.00" fill="#000"/>
<circle cx="245.01" cy="467.00" r="3.00" fill="#000"/>
<circle cx="250.40" cy="466.00" r="3.00" fill="#000"/>
<circle cx="255.79" cy="466.00" r="3.00" fill="#000"/>
<circle cx="261.18" cy="467.00" r="3.00" fill="#000"/>
<circle cx="266.57" cy="466.50" r="3.00" fill="#000"/>
<circle cx="271.97" cy="466.00" r="3.00" fill="#000"/>
<circle cx="277.36" cy="465.00" r="3.00" fill="#000"/>
<circle cx="282.75" cy="464.00" r="3.00" fill="#000"/>
<circle cx="288.14" cy="464.25" r="3.00" fill="#000"/>
<circle cx="293.53" cy="466.00" r="3.00" fill="#000"/>
<circle cx="298.93" cy="465.50" r="3.00" fill="#000"/>
<circle cx="304.32" cy="464.25" r="3.00" fill="#000"/>
<circle cx="309.71" cy="464.50" r="3.00" fill="#000"/>
<circle cx="315.10" cy="465.00" r="3.00" fill="#000"/>
<circle cx="320.49" cy="464.00" r="3.00" fill="#000"/>
<circle cx="325.88" cy="464.50" r="3.00" fill="#000"/>
<circle cx="331.28" cy="464.50" r="3.00" fill="#000"/>
<circle cx="336.67" cy="465.50" r="3.00" fill="#000"/>
<circle cx="342.06" cy="464.00" r="3.00" fill="#000"/>
<circle cx="347.45" cy="465.50" r="3.00" fill="#000"/>
<circle cx="352.84" cy="468.00" r="3.00" fill="#000"/>
<circle cx="358.23" cy="468.75" r="3.00" fill="#000"/>
<circle cx="363.62" cy="470.00" r="3.00" fill="#000"/>
<circle cx="369.02" cy="469.50" r="3.00" fill="#000"/>
<circle cx="374.41" cy="469.00" r="3.00" fill="#000"/>
<circle cx="379.80" cy="466.00" r="3.00" fill="#000"/>
<circle cx="385.19" cy="466.00" r="3.00" fill="#000"/>
<circle cx="390.58" cy="467.50" r="3.00" fill="#000"/>
<circle cx="395.98" cy="470.50" r="3.00" fill="#000"/>
<circle cx="401.37" cy="465.00" r="3.00" fill="#000"/>
<circle cx="406.76" cy="466.50" r="3.00" fill="#000"/>
<circle cx="412.15" cy="464.00" r="3.00" fill="#000"/>
<circle cx="417.54" cy="468.50" r="3.00" fill="#000"/>
<circle cx="422.93" cy="468.50" r="3.00" fill="#000"/>
<circle cx="428.32" cy="465.00" r="3.00" fill="#000"/>
<circle cx="433.72" cy="467.00" r="3.00" fill="#000"/>
<circle cx="439.11" cy="466.00" r="3.00" fill="#000"/>
<circle cx="444.50" cy="467.00" r="3.00" fill="#000"/>
<circle cx="56.30" cy="470.00" r="2.33" fill="#fff" stroke="#000" stroke-width="1.35"/>
<circle cx="61.69" cy="471.75" r="2.33" fill="#fff" stroke="#000" stroke-width="1.35"/>
<circle cx="67.08" cy="472.00" r="2.33" fill="#fff" stroke="#000" stroke-width="1.35"/>
<circle cx="72.47" cy="471.75" r="2.33" fill="#fff" stroke="#000" stroke-width="1.35"/>
<circle cx="77.87" cy="471.75" r="2.33" fill="#fff" stroke="#000" stroke-width="1.35"/>
<circle cx="83.26" cy="470.00" r="2.33" fill="#fff" stroke="#000" stroke-width="1.35"/>
<circle cx="88.65" cy="465.50" r="2.33" fill="#fff" stroke="#000" stroke-width="1.35"/>
<circle cx="94.04" cy="466.00" r="2.33" fill="#fff" stroke="#000" stroke-width="1.35"/>
<circle cx="99.43" cy="466.00" r="2.33" fill="#fff" stroke="#000" stroke-width="1.35"/>
<circle cx="104.82" cy="465.00" r="2.33" fill="#fff" stroke="#000" stroke-width="1.35"/>
<circle cx="110.22" cy="465.00" r="2.33" fill="#fff" stroke="#000" stroke-width="1.35"/>
<circle cx="115.61" cy="464.50" r="2.33" fill="#fff" stroke="#000" stroke-width="1.35"/>
<circle cx="121.00" cy="464.50" r="2.33" fill="#fff" stroke="#000" stroke-width="1.35"/>
<circle cx="126.39" cy="464.00" r="2.33" fill="#fff" stroke="#000" stroke-width="1.35"/>
<circle cx="131.78" cy="465.00" r="2.33" fill="#fff" stroke="#000" stroke-width="1.35"/>
<circle cx="137.18" cy="465.00" r="2.33" fill="#fff" stroke="#000" stroke-width="1.35"/>
<circle cx="142.57" cy="465.50" r="2.33" fill="#fff" stroke="#000" stroke-width="1.35"/>
<circle cx="147.96" cy="465.50" r="2.33" fill="#fff" stroke="#000" stroke-width="1.35"/>
<circle cx="153.35" cy="461.25" r="2.33" fill="#fff" stroke="#000" stroke-width="1.35"/>
<circle cx="158.74" cy="465.75" r="2.33" fill="#fff" stroke="#000" stroke-width="1.35"/>
<circle cx="164.13" cy="466.00" r="2.33" fill="#fff" stroke="#000" stroke-width="1.35"/>
<circle cx="169.52" cy="464.25" r="2.33" fill="#fff" stroke="#000" stroke-width="1.35"/>
<circle cx="174.92" cy="464.25" r="2.33" fill="#fff" stroke="#000" stroke-width="1.35"/>
<circle cx="180.31" cy="464.25" r="2.33" fill="#fff" stroke="#000" stroke-width="1.35"/>
<circle cx="185.70" cy="464.25" r="2.33" fill="#fff" stroke="#000" stroke-width="1.35"/>
<circle cx="191.09" cy="465.75" r="2.33" fill="#fff" stroke="#000" stroke-width="1.35"/>
<circle cx="196.48" cy="467.00" r="2.33" fill="#fff" stroke="#000" stroke-width="1.35"/>
<circle cx="201.88" cy="468.50" r="2.33" fill="#fff" stroke="#000" stroke-width="1.35"/>
<circle cx="207.27" cy="467.50" r="2.33" fill="#fff" stroke="#000" stroke-width="1.35"/>
<circle cx="212.66" cy="467.00" r="2.33" fill="#fff" stroke="#000" stroke-width="1.35"/>
<circle cx="218.05" cy="465.00" r="2.33" fill="#fff" stroke="#000" stroke-width="1.35"/>
<circle cx="223.44" cy="465.50" r="2.33" fill="#fff" stroke="#000" stroke-width="1.35"/>
<circle cx="228.83" cy="467.00" r="2.33" fill="#fff" stroke="#000" stroke-width="1.35"/>
<circle cx="234.23" cy="467.50" r="2.33" fill="#fff" stroke="#000" stroke-width="1.35"/>
<circle cx="239.62" cy="467.50" r="2.33" fill="#fff" stroke="#000" stroke-width="1.35"/>
<circle cx="245.01" cy="467.00" r="2.33" fill="#fff" stroke="#000" stroke-width="1.35"/>
<circle cx="250.40" cy="466.00" r="2.33" fill="#fff" stroke="#000" stroke-width="1.35"/>
<circle cx="255.79" cy="466.00" r="2.33" fill="#fff" stroke="#000" stroke-width="1.35"/>
<circle cx="261.18" cy="467.00" r="2.33" fill="#fff" stroke="#000" stroke-width="1.35"/>
<circle cx="266.57" cy="466.50" r="2.33" fill="#fff" stroke="#000" stroke-width="1.35"/>
<circle cx="271.97" cy="466.00" r="2.33" fill="#fff" stroke="#000" stroke-width="1.35"/>
<circle cx="277.36" cy="465.00" r="2.33" fill="#fff" stroke="#000" stroke-width="1.35"/>
<circle cx="282.75" cy="464.00" r="2.33" fill="#fff" stroke="#000" stroke-width="1.35"/>
<circle cx="288.14" cy="464.25" r="2.33" fill="#fff" stroke="#000" stroke-width="1.35"/>
<circle cx="293.53" cy="466.00" r="2.33" fill="#fff" stroke="#000" stroke-width="1.35"/>
<circle cx="298.93" cy="465.50" r="2.33" fill="#fff" stroke="#000" stroke-width="1.35"/>
<circle cx="304.32" cy="464.25" r="2.33" fill="#fff" stroke="#000" stroke-width="1.35"/>
<circle cx="309.71" cy="464.50" r="2.33" fill="#fff" stroke="#000" stroke-width="1.35"/>
<circle cx="315.10" cy="465.00" r="2.33" fill="#fff" stroke="#000" stroke-width="1.35"/>
<circle cx="320.49" cy="469.00" r="2.33" fill="#fff" stroke="#000" stroke-width="1.35"/>
<circle cx="325.88" cy="469.50" r="2.33" fill="#fff" stroke="#000" stroke-width="1.35"/>
<circle cx="331.28" cy="470.00" r="2.33" fill="#fff" stroke="#000" stroke-width="1.35"/>
<circle cx="336.67" cy="469.50" r="2.33" fill="#fff" stroke="#000" stroke-width="1.35"/>
<circle cx="342.06" cy="468.50" r="2.33" fill="#fff" stroke="#000" stroke-width="1.35"/>
<circle cx="347.45" cy="465.50" r="2.33" fill="#fff" stroke="#000" stroke-width="1.35"/>
<circle cx="352.84" cy="468.00" r="2.33" fill="#fff" stroke="#000" stroke-width="1.35"/>
<circle cx="358.23" cy="468.75" r="2.33" fill="#fff" stroke="#000" stroke-width="1.35"/>
<circle cx="363.62" cy="470.00" r="2.33" fill="#fff" stroke="#000" stroke-width="1.35"/>
<circle cx="369.02" cy="469.50" r="2.33" fill="#fff" stroke="#000" stroke-width="1.35"/>
<circle cx="374.41" cy="469.00" r="2.33" fill="#fff" stroke="#000" stroke-width="1.35"/>
<circle cx="379.80" cy="466.00" r="2.33" fill="#fff" stroke="#000" stroke-width="1.35"/>
<circle cx="385.19" cy="470.00" r="2.33" fill="#fff" stroke="#000" stroke-width="1.35"/>
<circle cx="390.58" cy="471.50" r="2.33" fill="#fff" stroke="#000" stroke-width="1.35"/>
<circle cx="395.98" cy="470.50" r="2.33" fill="#fff" stroke="#000" stroke-width="1.35"/>
<circle cx="401.37" cy="469.50" r="2.33" fill="#fff" stroke="#000" stroke-width="1.35"/>
<circle cx="406.76" cy="466.50" r="2.33" fill="#fff" stroke="#000" stroke-width="1.35"/>
<circle cx="412.15" cy="466.00" r="2.33" fill="#fff" stroke="#000" stroke-width="1.35"/>
<circle cx="417.54" cy="468.50" r="2.33" fill="#fff" stroke="#000" stroke-width="1.35"/>
<circle cx="422.93" cy="467.00" r="2.33" fill="#fff" stroke="#000" stroke-width="1.35"/>
<circle cx="428.32" cy="465.00" r="2.33" fill="#fff" stroke="#000" stroke-width="1.35"/>
<circle cx="433.72" cy="467.00" r="2.33" fill="#fff" stroke="#000" stroke-width="1.35"/>
<circle cx="439.11" cy="466.00" r="2.33" fill="#fff" stroke="#000" stroke-width="1.35"/>
<circle cx="444.50" cy="467.00" r="2.33" fill="#fff" stroke="#000" stroke-width="1.35"/>
<line x1="55.65" y1="539.00" x2="445.15" y2="539.00" stroke="#000" stroke-width="1.30"/>
<line x1="56.30" y1="539.00" x2="56.30" y2="534.20" stroke="#000" stroke-width="1.30"/>
<text x="53.80" y="555.30" font-size="8.8" text-anchor="middle" class="b">0</text>
<line x1="72.47" y1="539.00" x2="72.47" y2="536.60" stroke="#000" stroke-width="1.00"/>
<line x1="88.65" y1="539.00" x2="88.65" y2="534.20" stroke="#000" stroke-width="1.30"/>
<text x="86.50" y="555.30" font-size="8.8" text-anchor="middle" class="b">2</text>
<line x1="104.83" y1="539.00" x2="104.83" y2="536.60" stroke="#000" stroke-width="1.00"/>
<line x1="121.00" y1="539.00" x2="121.00" y2="534.20" stroke="#000" stroke-width="1.30"/>
<text x="119.40" y="555.30" font-size="8.8" text-anchor="middle" class="b">4</text>
<line x1="137.18" y1="539.00" x2="137.18" y2="536.60" stroke="#000" stroke-width="1.00"/>
<line x1="153.35" y1="539.00" x2="153.35" y2="534.20" stroke="#000" stroke-width="1.30"/>
<text x="152.00" y="555.30" font-size="8.8" text-anchor="middle" class="b">6</text>
<line x1="169.53" y1="539.00" x2="169.53" y2="536.60" stroke="#000" stroke-width="1.00"/>
<line x1="185.70" y1="539.00" x2="185.70" y2="534.20" stroke="#000" stroke-width="1.30"/>
<text x="184.30" y="555.30" font-size="8.8" text-anchor="middle" class="b">8</text>
<line x1="201.88" y1="539.00" x2="201.88" y2="536.60" stroke="#000" stroke-width="1.00"/>
<line x1="218.05" y1="539.00" x2="218.05" y2="534.20" stroke="#000" stroke-width="1.30"/>
<text x="220.50" y="555.30" font-size="8.8" text-anchor="middle" class="b">10</text>
<line x1="234.23" y1="539.00" x2="234.23" y2="536.60" stroke="#000" stroke-width="1.00"/>
<line x1="250.40" y1="539.00" x2="250.40" y2="534.20" stroke="#000" stroke-width="1.30"/>
<text x="252.60" y="555.30" font-size="8.8" text-anchor="middle" class="b">12</text>
<line x1="266.57" y1="539.00" x2="266.57" y2="536.60" stroke="#000" stroke-width="1.00"/>
<line x1="282.75" y1="539.00" x2="282.75" y2="534.20" stroke="#000" stroke-width="1.30"/>
<text x="285.10" y="555.30" font-size="8.8" text-anchor="middle" class="b">14</text>
<line x1="298.93" y1="539.00" x2="298.93" y2="536.60" stroke="#000" stroke-width="1.00"/>
<line x1="315.10" y1="539.00" x2="315.10" y2="534.20" stroke="#000" stroke-width="1.30"/>
<text x="315.10" y="555.30" font-size="8.8" text-anchor="middle" class="b">16</text>
<line x1="331.28" y1="539.00" x2="331.28" y2="536.60" stroke="#000" stroke-width="1.00"/>
<line x1="347.45" y1="539.00" x2="347.45" y2="534.20" stroke="#000" stroke-width="1.30"/>
<text x="347.30" y="555.30" font-size="8.8" text-anchor="middle" class="b">18</text>
<line x1="363.62" y1="539.00" x2="363.62" y2="536.60" stroke="#000" stroke-width="1.00"/>
<line x1="379.80" y1="539.00" x2="379.80" y2="534.20" stroke="#000" stroke-width="1.30"/>
<text x="379.70" y="555.30" font-size="8.8" text-anchor="middle" class="b">20</text>
<line x1="395.98" y1="539.00" x2="395.98" y2="536.60" stroke="#000" stroke-width="1.00"/>
<line x1="412.15" y1="539.00" x2="412.15" y2="534.20" stroke="#000" stroke-width="1.30"/>
<text x="412.00" y="555.30" font-size="8.8" text-anchor="middle" class="b">22</text>
<line x1="428.33" y1="539.00" x2="428.33" y2="536.60" stroke="#000" stroke-width="1.00"/>
<line x1="444.50" y1="539.00" x2="444.50" y2="534.20" stroke="#000" stroke-width="1.30"/>
<text x="444.40" y="555.30" font-size="8.8" text-anchor="middle" class="b">24</text>
<text x="474.60" y="555.00" font-size="11" text-anchor="middle" stroke="#000" stroke-width="0.3">(h)</text>
<text x="474.60" y="528.00" font-size="11" text-anchor="middle" stroke="#000" stroke-width="0.3">(h)</text>
<text x="62.50" y="527.40" font-size="8.7" text-anchor="middle" stroke="#000" stroke-width="0.4">20:00</text>
<text x="155.40" y="527.40" font-size="8.7" text-anchor="middle" stroke="#000" stroke-width="0.4">02:00</text>
<text x="252.80" y="527.40" font-size="8.7" text-anchor="middle" stroke="#000" stroke-width="0.4">08:00</text>
<text x="350.60" y="527.40" font-size="8.7" text-anchor="middle" stroke="#000" stroke-width="0.4">14:00</text>
<text x="445.70" y="527.40" font-size="8.7" text-anchor="middle" stroke="#000" stroke-width="0.4">20:00</text>
<text x="254.80" y="510.40" font-size="9.6" text-anchor="middle" stroke="#000" stroke-width="0.4">Time of day</text>
<text x="249.20" y="575.30" font-size="13.25" text-anchor="middle" stroke="#000" stroke-width="0.2">Time post-dosing (hours)</text>
</svg></body></html>
